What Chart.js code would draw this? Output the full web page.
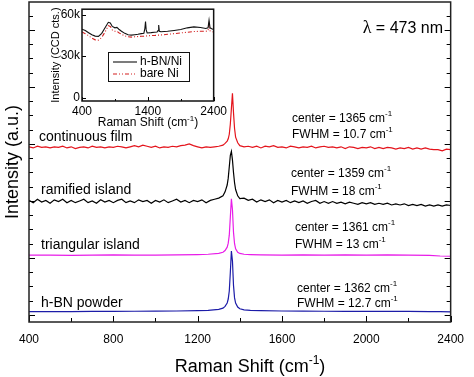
<!DOCTYPE html>
<html><head><meta charset="utf-8">
<script src="https://cdn.jsdelivr.net/npm/chart.js@4.4.0/dist/chart.umd.min.js"></script>
<style>
html,body{margin:0;padding:0;background:#fff;}
#wrap{position:relative;width:474px;height:377px;overflow:hidden;}
#main{position:absolute;left:0;top:0;}
#inset{position:absolute;left:40px;top:0;}
</style></head><body>
<div id="wrap"><canvas id="main" width="474" height="377"></canvas><canvas id="inset" width="190" height="130"></canvas></div>
<script>
// ---------- DATA ----------
const sampleNames = ['continuous film', 'ramified island', 'triangular island', 'h-BN powder'];
const peakCenters = ['1365', '1359', '1361', '1362'];
const peakFWHM = ['10.7', '18', '13', '12.7'];
const laserText = '473 nm';

const shiftNoisy = [
  400,420,440,460,480,500,520,540,560,580,
  600,620,640,660,680,700,720,740,760,780,
  800,820,840,860,880,900,920,940,960,980,
  1000,1020,1040,1060,1080,1100,1120,1140,1160,1180,
  1200,1220,1240,1260,1280,1300,1320,
  1330,1340,1345,1350,1355,1360,1365,1370,1375,1380,1390,1400,
  1420,1440,1460,1480,1500,1520,1540,1560,1580,1600,
  1620,1640,1660,1680,1700,1720,1740,1760,1780,1800,
  1820,1840,1860,1880,1900,1920,1940,1960,1980,2000,
  2020,2040,2060,2080,2100,2120,2140,2160,2180,2200,
  2220,2240,2260,2280,2300,2320,2340,2360,2380,2400
];
const filmIntensity = [
  2.95,2.93,2.96,2.94,2.95,2.93,2.95,2.94,2.96,2.93,
  2.95,2.92,2.94,2.95,2.93,2.96,2.94,2.95,2.93,2.95,
  2.94,2.96,2.95,2.93,2.95,2.97,2.95,2.98,2.96,2.94,
  2.96,2.93,2.95,2.94,2.96,2.95,2.97,2.98,3.00,2.97,
  2.95,2.93,2.95,2.94,2.95,2.96,2.98,
  3.01,3.05,3.09,3.17,3.35,3.62,3.89,3.55,3.27,3.12,3.02,2.97,
  2.95,2.96,2.94,2.96,2.93,2.96,2.95,2.97,2.94,2.95,
  2.93,2.96,2.95,2.93,2.95,2.94,2.96,2.93,2.95,2.96,
  2.94,2.95,2.93,2.95,2.92,2.95,2.94,2.92,2.94,2.93,
  2.95,2.92,2.94,2.92,2.94,2.93,2.91,2.93,2.92,2.94,
  2.91,2.93,2.91,2.93,2.91,2.90,2.90,2.88,2.91,2.90
];
const ramifiedIntensity = [
  2.01,1.97,2.03,1.98,2.01,1.96,2.02,1.99,2.03,1.97,
  2.01,1.97,2.00,2.03,1.97,2.00,1.96,2.02,1.98,2.01,
  1.97,2.01,2.03,1.97,2.00,1.97,2.02,1.99,2.01,1.96,
  2.01,1.98,2.02,1.97,2.00,2.03,1.98,2.01,1.97,2.01,
  1.99,2.02,1.97,2.01,2.03,2.05,2.09,
  2.16,2.28,2.40,2.60,2.80,2.87,2.72,2.50,2.32,2.20,2.09,2.04,
  2.05,2.01,2.03,1.98,2.02,1.99,2.02,1.97,2.01,1.98,
  2.01,1.97,2.00,1.97,2.00,1.96,1.99,2.01,1.96,1.99,
  1.96,1.99,1.96,1.98,1.95,1.98,1.96,1.94,1.97,1.95,
  1.97,1.94,1.96,1.94,1.96,1.93,1.95,1.93,1.95,1.92,
  1.94,1.92,1.94,1.91,1.93,1.91,1.93,1.91,1.93,1.92
];
const shiftSmooth = [
  400,500,600,700,800,900,1000,1100,1200,1250,1300,1320,
  1330,1340,1345,1350,1355,1360,1365,1370,1375,1380,1390,1400,
  1420,1450,1500,1600,1700,1800,1900,2000,2100,2200,2300,2350,2400
];
const triangularIntensity = [
  1.05,1.05,1.045,1.05,1.055,1.05,1.05,1.055,1.06,1.065,1.08,1.10,
  1.13,1.19,1.26,1.40,1.72,2.04,1.85,1.45,1.25,1.16,1.10,1.08,
  1.065,1.06,1.055,1.05,1.055,1.05,1.055,1.05,1.055,1.05,1.045,1.035,1.03
];
const powderIntensity = [
  0.06,0.06,0.06,0.062,0.064,0.066,0.068,0.07,0.076,0.082,0.10,0.12,
  0.15,0.21,0.28,0.42,0.75,1.12,0.95,0.52,0.30,0.21,0.14,0.11,
  0.09,0.08,0.075,0.07,0.068,0.066,0.065,0.064,0.063,0.062,0.06,0.058,0.056
];

// inset (intensity in thousands of CCD counts)
const insetShift = [
  400,450,500,550,600,650,700,750,800,830,860,900,930,960,
  1000,1050,1100,1150,1200,1250,1300,1340,1355,1365,1375,1390,
  1450,1500,1540,1555,1565,1575,1600,1700,1800,1900,2000,2100,2200,
  2280,2315,2330,2345,2370,2400
];
const insetHBN = [
  49.5,48.5,47,45.5,44.5,44.3,46.5,50.5,54.5,54,51.5,50.5,50.8,49.5,
  48,46.5,45.5,45.2,45.5,45.8,46.3,46.6,50,55,49,46.8,
  47,47.3,47.5,48.5,52.5,48,47.7,48,48.6,49.3,50.5,51.2,50.8,
  50,50.5,56,50.5,49.8,49.3
];
const insetBareNi = [
  47.5,46.3,44.8,43,41.8,41.6,43.5,47.5,52,51.5,49,48,48,47,
  45.8,44.6,44,43.8,44,44.2,44.4,44.5,44.6,44.6,44.6,44.7,
  44.9,45,45.1,45.2,45.2,45.2,45.3,45.8,46.3,46.8,47.3,47.8,48,
  48,48.3,53,48.3,47.8,47.5
];
const insetNames = ['h-BN/Ni', 'bare Ni'];
const insetYTicks = [0, 30, 60];

// ---------- HELPERS ----------
const FONT = '"Liberation Sans", Arial, sans-serif';
const pts = (xs, ys) => xs.map((x, i) => ({x, y: ys[i]}));

function richText(ctx, x, y, segs, align) {
  let w = 0;
  segs.forEach(s => { ctx.font = s[1] + 'px ' + FONT; w += ctx.measureText(s[0]).width; });
  let cx = align === 'center' ? x - w / 2 : x;
  ctx.textAlign = 'left';
  ctx.textBaseline = 'alphabetic';
  segs.forEach(s => {
    ctx.font = s[1] + 'px ' + FONT;
    ctx.fillText(s[0], cx, y + (s[2] || 0));
    cx += ctx.measureText(s[0]).width;
  });
}

// ---------- MAIN CHART ----------
const colors = ['#e4141c', '#000000', '#e81ce8', '#1c1ca8'];

const mainDeco = {
  id: 'mainDeco',
  afterDraw(chart) {
    const {ctx, chartArea: a, scales: {x, y}} = chart;
    ctx.save();
    ctx.fillStyle = '#000';
    ctx.strokeStyle = '#000';
    ctx.lineWidth = 1;
    for (let v = 400; v <= 2400; v += 200) {
      const px = Math.round(x.getPixelForValue(v)) + 0.5;
      const len = (v % 400 === 0) ? 6 : 4;
      ctx.beginPath(); ctx.moveTo(px, a.bottom); ctx.lineTo(px, a.bottom - len); ctx.stroke();
    }
    for (let k = 0; k <= 22; k++) {
      const v = k * 0.25;
      if (v > y.max) break;
      const py = Math.round(y.getPixelForValue(v)) + 0.5;
      const len = (k % 4 === 0) ? 6 : 4;
      ctx.beginPath();
      ctx.moveTo(a.left, py); ctx.lineTo(a.left + len, py);
      ctx.moveTo(a.right, py); ctx.lineTo(a.right - len, py);
      ctx.stroke();
    }
    ctx.lineWidth = 1.5;
    ctx.strokeStyle = '#222';
    ctx.strokeRect(a.left, a.top, a.right - a.left, a.bottom - a.top);

    richText(ctx, 250, 372, [['Raman Shift (cm', 18], ['-1', 12, -8], [')', 18]], 'center');

    ctx.textBaseline = 'alphabetic';
    ctx.font = '16px ' + FONT;
    const rest = ' = ' + laserText;
    const wr = ctx.measureText(rest).width;
    ctx.textAlign = 'right';
    ctx.fillText(rest, 443, 33);
    ctx.font = '18px "Liberation Serif", serif';
    ctx.fillText('\u03bb', 443 - wr, 33);

    ctx.font = '14px ' + FONT;
    ctx.textAlign = 'left';
    ctx.textBaseline = 'middle';
    const nameY = [137, 190, 245, 303];
    const nameX = [39, 41, 41, 41];
    sampleNames.forEach((n, i) => ctx.fillText(n, nameX[i], nameY[i]));

    const annX = [292, 291, 295, 297];
    const cY = [122, 177, 231, 292];
    const fY = [138, 195, 248, 307];
    sampleNames.forEach((n, i) => {
      richText(ctx, annX[i], cY[i], [['center = ' + peakCenters[i] + ' cm', 12], ['-1', 8, -6]], 'left');
      richText(ctx, annX[i], fY[i], [['FWHM = ' + peakFWHM[i] + ' cm', 12], ['-1', 8, -6]], 'left');
    });
    ctx.restore();
  }
};

new Chart(document.getElementById('main'), {
  type: 'line',
  data: {
    datasets: [
      {label: sampleNames[0], data: pts(shiftNoisy, filmIntensity), borderColor: colors[0]},
      {label: sampleNames[1], data: pts(shiftNoisy, ramifiedIntensity), borderColor: colors[1]},
      {label: sampleNames[2], data: pts(shiftSmooth, triangularIntensity), borderColor: colors[2]},
      {label: sampleNames[3], data: pts(shiftSmooth, powderIntensity), borderColor: colors[3]}
    ]
  },
  options: {
    responsive: false,
    animation: false,
    layout: {padding: {left: 0, right: 17, top: 2, bottom: 0}},
    plugins: {legend: {display: false}, tooltip: {enabled: false}},
    elements: {point: {radius: 0}, line: {borderWidth: 1.2, tension: 0}},
    scales: {
      x: {
        type: 'linear', min: 400, max: 2400,
        ticks: {stepSize: 400, font: {family: FONT, size: 12}, color: '#000', padding: 10, maxRotation: 0, callback: v => String(v)},
        grid: {display: false, drawTicks: false},
        border: {display: false},
        afterFit(s) { s.height = 55; }
      },
      y: {
        min: -0.123, max: 5.49,
        ticks: {display: false},
        grid: {display: false, drawTicks: false},
        border: {display: false},
        title: {display: true, text: 'Intensity (a.u.)', color: '#000', font: {family: FONT, size: 18}, padding: {top: 2, bottom: 0}},
        afterFit(s) { s.width = 29; }
      }
    }
  },
  plugins: [mainDeco]
});

// ---------- INSET ----------
const insetColors = ['#111111', '#d42020'];
const insetDeco = {
  id: 'insetDeco',
  afterDraw(chart) {
    const {ctx, chartArea: a, scales: {x, y}} = chart;
    ctx.save();
    ctx.strokeStyle = '#000';
    ctx.lineWidth = 1;
    insetYTicks.forEach(v => {
      const py = Math.round(y.getPixelForValue(v)) + 0.5;
      ctx.beginPath(); ctx.moveTo(a.left, py); ctx.lineTo(a.left + 4, py); ctx.stroke();
    });
    [400, 900, 1400, 1900, 2400].forEach((v, i) => {
      const px = Math.round(x.getPixelForValue(v)) + 0.5;
      ctx.beginPath(); ctx.moveTo(px, a.bottom); ctx.lineTo(px, a.bottom - (i % 2 ? 2 : 4)); ctx.stroke();
    });
    ctx.lineWidth = 1.5;
    ctx.strokeStyle = '#111';
    ctx.strokeRect(a.left, a.top, a.right - a.left, a.bottom - a.top);
    ctx.lineWidth = 1;
    ctx.strokeRect(68.5, 52.5, 81, 29);
    ctx.lineWidth = 1.1;
    ctx.strokeStyle = insetColors[0];
    ctx.beginPath(); ctx.moveTo(73, 62); ctx.lineTo(97, 62); ctx.stroke();
    ctx.strokeStyle = insetColors[1];
    ctx.setLineDash([4, 2, 1, 2, 1, 2]);
    ctx.beginPath(); ctx.moveTo(73, 74); ctx.lineTo(97, 74); ctx.stroke();
    ctx.setLineDash([]);
    ctx.fillStyle = '#000';
    ctx.font = '12px ' + FONT;
    ctx.textAlign = 'left';
    ctx.textBaseline = 'middle';
    ctx.fillText(insetNames[0], 100, 62);
    ctx.fillText(insetNames[1], 100, 74);
    richText(ctx, 108, 126, [['Raman Shift (cm', 12], ['-1', 8, -5], [')', 12]], 'center');
    ctx.restore();
  }
};

new Chart(document.getElementById('inset'), {
  type: 'line',
  data: {
    datasets: [
      {label: insetNames[0], data: pts(insetShift, insetHBN), borderColor: insetColors[0], borderWidth: 1.1},
      {label: insetNames[1], data: pts(insetShift, insetBareNi), borderColor: insetColors[1], borderWidth: 1.1, borderDash: [4, 2, 1, 2, 1, 2]}
    ]
  },
  options: {
    responsive: false,
    animation: false,
    layout: {padding: {left: 0, right: 13, top: 4, bottom: 0}},
    plugins: {legend: {display: false}, tooltip: {enabled: false}},
    elements: {point: {radius: 0}, line: {tension: 0}},
    scales: {
      x: {
        type: 'linear', min: 400, max: 2400,
        ticks: {stepSize: 1000, font: {family: FONT, size: 12}, color: '#000', padding: 3, maxRotation: 0, callback: v => String(v)},
        grid: {display: false, drawTicks: false},
        border: {display: false},
        afterFit(s) { s.height = 29; }
      },
      y: {
        min: -2.5, max: 64,
        afterBuildTicks(s) { s.ticks = insetYTicks.map(v => ({value: v})); },
        ticks: {font: {family: FONT, size: 12}, color: '#000', padding: 2, callback: v => v === 0 ? '0' : v + 'k'},
        grid: {display: false, drawTicks: false},
        border: {display: false},
        title: {display: true, text: 'Intensity (CCD cts.)', color: '#000', font: {family: FONT, size: 11}, padding: {top: 9, bottom: 0}},
        afterFit(s) { s.width = 42; }
      }
    }
  },
  plugins: [insetDeco]
});
</script>
</body></html>
